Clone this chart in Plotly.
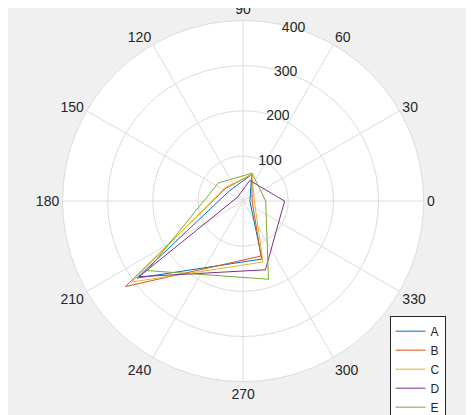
import plotly.graph_objects as go

# angles (deg) and radial values per series
theta = [0, 72, 144, 216, 288, 0]
series = {
    "A": [15, 62, 38, 290, 135],
    "B": [20, 62, 48, 322, 128],
    "C": [25, 62, 50, 305, 142],
    "D": [92, 48, 15, 285, 160],
    "E": [50, 65, 68, 262, 182],
}
colors = ["#0072BD", "#D95319", "#EDB120", "#7E2F8E", "#77AC30"]
angle_ticks = list(range(0, 360, 30))
radial_ticks = [100, 200, 300, 400]

fig = go.Figure()
for (name, vals), c in zip(series.items(), colors):
    fig.add_trace(go.Scatterpolar(
        r=vals + vals[:1], theta=theta, mode="lines", name=name,
        line=dict(color=c, width=1),
    ))

fig.update_layout(
    width=474, height=415,
    paper_bgcolor="#f0f0f0",
    margin=dict(l=0, r=0, t=0, b=0),
    font=dict(family="Liberation Sans, Arial", size=13, color="#262626"),
    polar=dict(
        domain=dict(x=[0.115, 0.877], y=[0.09, 0.975]),
        bgcolor="white",
        angularaxis=dict(
            tickvals=angle_ticks, ticktext=[str(a) for a in angle_ticks],
            direction="counterclockwise", rotation=0,
            gridcolor="#dcdcdc", linecolor="#dcdcdc", ticks="",
            tickfont=dict(size=14),
        ),
        radialaxis=dict(
            range=[0, 400], tickvals=radial_ticks, angle=80, tickangle=80,
            gridcolor="#dcdcdc", showline=False, ticks="",
            tickfont=dict(size=14),
        ),
    ),
    legend=dict(
        x=0.805, y=0.255, xanchor="left", yanchor="top",
        bgcolor="white", bordercolor="#262626", borderwidth=1,
        font=dict(size=12), tracegroupgap=0,
    ),
)

fig.write_html("out.html")
